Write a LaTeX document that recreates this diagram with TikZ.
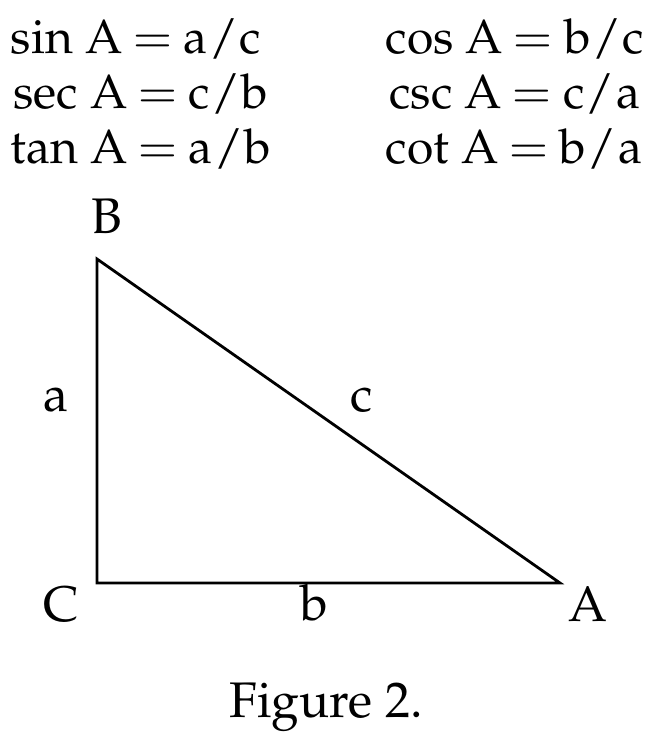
\documentclass[tikz,border=0pt]{standalone}
\usepackage[T1]{fontenc}
\usepackage{mathpazo}
\usepackage{tikz}
\tikzstyle{side} = [line width=2.8pt, line join=miter]
\tikzstyle{lbl} = [inner sep=0pt, anchor=base, font=\fontsize{50}{55}\selectfont]
\tikzstyle{ratio} = [lbl, font=\fontsize{48}{53}\selectfont]
\newcommand{\ovr}{\kern1.5pt/\kern1.5pt}
\newcommand{\eqs}{\kern-2pt{$=$}\kern-1pt}

\begin{document}
\begin{tikzpicture}[x=1pt, y=-1pt]
                \useasboundingbox (0,0) rectangle (653,745);

                % ratios
                \node (sin) [ratio] at (136,53) {sin A \eqs{} a\ovr c};
                \node (sec) [ratio] at (141,108) {sec A \eqs{} c\ovr b};
                \node (tan) [ratio] at (141,163) {tan A \eqs{} a\ovr b};
                \node (cos) [ratio] at (515,53) {cos A \eqs{} b\ovr c};
                \node (csc) [ratio] at (515,108) {csc A \eqs{} c\ovr a};
                \node (cot) [ratio] at (514,163) {cot A \eqs{} b\ovr a};

                % triangle
                \coordinate (B) at (97,259);
                \coordinate (C) at (97,583);
                \coordinate (A) at (560,583);
                \draw [side] (B) -- (C) -- (A) -- cycle;

                \node (labB) [lbl] at (107,233) {B};
                \node (labC) [lbl] at (61,621) {C};
                \node (labA) [lbl] at (588,621) {A};
                \node (laba) [lbl] at (56,411) {a};
                \node (labc) [lbl] at (362,411) {c};
                \node (labb) [lbl] at (314,620) {b};

                \node (caption) [lbl] at (326,717) {Figure 2.};
            \end{tikzpicture}
\end{document}
